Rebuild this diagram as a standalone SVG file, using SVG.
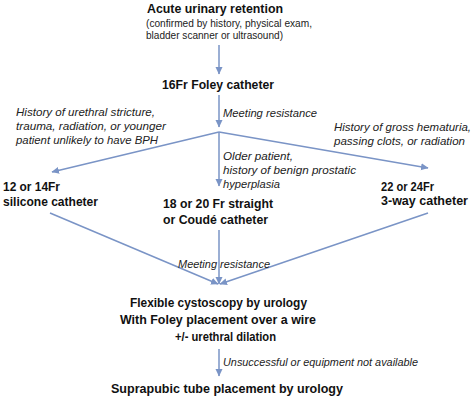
<svg xmlns="http://www.w3.org/2000/svg" width="474" height="405" viewBox="0 0 474 405">
<defs>
<marker id="ah" markerWidth="8" markerHeight="8" refX="7" refY="4" orient="auto" markerUnits="userSpaceOnUse">
<path d="M0,0.5 L7.5,4 L0,7.5 Z" fill="#7a94c6"/>
</marker>
<style>
.b{font-family:"Liberation Sans",Arial,sans-serif;font-weight:bold;font-size:12.5px;fill:#111}
.n{font-family:"Liberation Sans",Arial,sans-serif;font-size:10px;fill:#222}
.i{font-family:"Liberation Sans",Arial,sans-serif;font-style:italic;font-size:10.5px;fill:#222}
.c{stroke:#7a94c6;stroke-width:1.5;fill:none}
</style>
</defs>
<rect width="474" height="405" fill="#fff"/>
<g id="connectors">
<line class="c" x1="219" y1="45" x2="219" y2="74" marker-end="url(#ah)"/>
<line class="c" x1="219" y1="95" x2="219" y2="127" marker-end="url(#ah)"/>
<line class="c" x1="219" y1="132" x2="52" y2="172" marker-end="url(#ah)"/>
<line class="c" x1="219" y1="132" x2="428" y2="168" marker-end="url(#ah)"/>
<line class="c" x1="219" y1="132" x2="219" y2="186" marker-end="url(#ah)"/>
<line class="c" x1="50" y1="213" x2="218" y2="284" marker-end="url(#ah)"/>
<line class="c" x1="428" y1="213" x2="220" y2="284" marker-end="url(#ah)"/>
<line class="c" x1="219" y1="230" x2="219" y2="284" marker-end="url(#ah)"/>
<line class="c" x1="219" y1="349" x2="219" y2="376" marker-end="url(#ah)"/>
</g>
<g id="labels">
<text class="i" x="223" y="117" textLength="94" lengthAdjust="spacingAndGlyphs">Meeting resistance</text>
<text class="i" x="16" y="116" textLength="139" lengthAdjust="spacingAndGlyphs">History of urethral stricture,</text>
<text class="i" x="16" y="130" textLength="150" lengthAdjust="spacingAndGlyphs">trauma, radiation, or younger</text>
<text class="i" x="16" y="144" textLength="142" lengthAdjust="spacingAndGlyphs">patient unlikely to have BPH</text>
<text class="i" x="334" y="131" textLength="137" lengthAdjust="spacingAndGlyphs">History of gross hematuria,</text>
<text class="i" x="334" y="145" textLength="131" lengthAdjust="spacingAndGlyphs">passing clots, or radiation</text>
<text class="i" x="223" y="160" textLength="70" lengthAdjust="spacingAndGlyphs">Older patient,</text>
<text class="i" x="223" y="174" textLength="133" lengthAdjust="spacingAndGlyphs">history of benign prostatic</text>
<text class="i" x="223" y="188" textLength="57" lengthAdjust="spacingAndGlyphs">hyperplasia</text>
<text class="i" x="178" y="268" textLength="92" lengthAdjust="spacingAndGlyphs">Meeting resistance</text>
<text class="i" x="223" y="366" textLength="195" lengthAdjust="spacingAndGlyphs">Unsuccessful or equipment not available</text>
</g>
<g id="node-retention">
<text class="b" x="147" y="13" textLength="136" lengthAdjust="spacingAndGlyphs">Acute urinary retention</text>
<text class="n" x="146" y="27" textLength="166" lengthAdjust="spacingAndGlyphs">(confirmed by history, physical exam,</text>
<text class="n" x="146" y="39" textLength="137" lengthAdjust="spacingAndGlyphs">bladder scanner or ultrasound)</text>
</g>
<g id="node-foley16">
<text class="b" x="162" y="89" textLength="112" lengthAdjust="spacingAndGlyphs">16Fr Foley catheter</text>
</g>
<g id="node-silicone">
<text class="b" x="3" y="191" textLength="57" lengthAdjust="spacingAndGlyphs">12 or 14Fr</text>
<text class="b" x="3" y="206" textLength="95" lengthAdjust="spacingAndGlyphs">silicone catheter</text>
</g>
<g id="node-coude">
<text class="b" x="163" y="208" textLength="110" lengthAdjust="spacingAndGlyphs">18 or 20 Fr straight</text>
<text class="b" x="163" y="224" textLength="105" lengthAdjust="spacingAndGlyphs">or Coudé catheter</text>
</g>
<g id="node-threeway">
<text class="b" x="381" y="191" textLength="53" lengthAdjust="spacingAndGlyphs">22 or 24Fr</text>
<text class="b" x="381" y="205" textLength="87" lengthAdjust="spacingAndGlyphs">3-way catheter</text>
</g>
<g id="node-cystoscopy">
<text class="b" x="130" y="307" textLength="177" lengthAdjust="spacingAndGlyphs">Flexible cystoscopy by urology</text>
<text class="b" x="120" y="324" textLength="196" lengthAdjust="spacingAndGlyphs">With Foley placement over a wire</text>
<text class="b" x="175" y="341" textLength="101" lengthAdjust="spacingAndGlyphs">+/- urethral dilation</text>
</g>
<g id="node-suprapubic">
<text class="b" x="111" y="393" textLength="232" lengthAdjust="spacingAndGlyphs">Suprapubic tube placement by urology</text>
</g>
</svg>
